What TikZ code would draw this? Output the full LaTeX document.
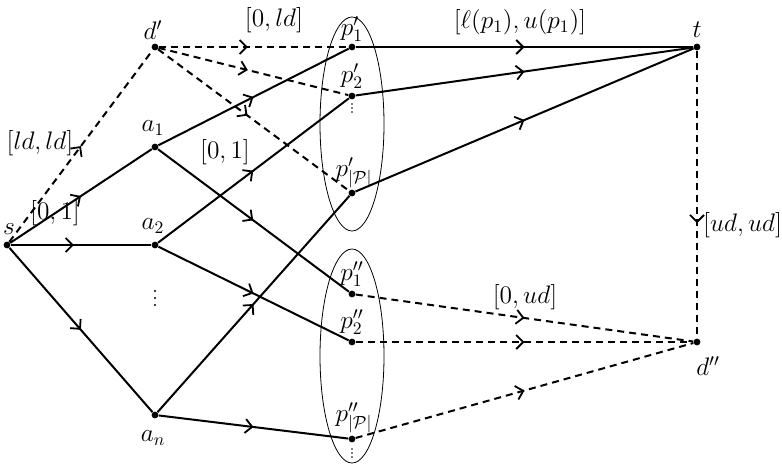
\documentclass[tikz,border=0pt]{standalone}
\usetikzlibrary{decorations.markings,arrows.meta}
\begin{document}
\begin{tikzpicture}[x=0.5pt,y=-0.5pt,
  pt/.style={circle,fill,inner sep=0pt,minimum size=3.4pt},
  dd/.style={circle,fill,inner sep=0pt,minimum size=1.2pt},
  mk/.style={postaction={decorate},decoration={markings,mark=at position #1 with {\arrow{Straight Barb[length=3.5pt,width=7pt,line width=0.9pt]}}}},
  e/.style={line width=1pt,mk=#1},
  e/.default=0.5,
  de/.style={line width=1pt,dash pattern=on 3.5pt off 2.5pt,mk=#1},
  de/.default=0.5,
  lab/.style={inner sep=1pt,font=\Large,scale=0.88}]
\useasboundingbox (0,0) rectangle (782,467);
\node[pt] (s) at (7,245) {};
\node[pt] (a1) at (155,147) {};
\node[pt] (a2) at (155,245) {};
\node[pt] (an) at (155,415) {};
\node[pt] (d1) at (155,47) {};
\node[pt] (p1) at (352,47) {};
\node[pt] (p2) at (352,96) {};
\node[pt] (pP) at (352,193) {};
\node[pt] (t) at (697,47) {};
\node[pt] (d2) at (697,342) {};
\node[pt] (q1) at (352,294) {};
\node[pt] (q2) at (352,342) {};
\node[pt] (qP) at (352,439) {};
\draw[thin] (352,124) ellipse (32 and 107);
\draw[thin] (352,356) ellipse (32 and 107);
\node[lab] at (9,229) {$s$};
\node[lab] at (153,128) {$a_1$};
\node[lab] at (153,226) {$a_2$};
\node[lab] at (153,438) {$a_n$};
\foreach \y in {291,298,305} \node[dd] at (155,\y) {};
\foreach \y in {104,108,112} \node[dd,minimum size=0.9pt] at (352,\y) {};
\foreach \y in {449,453,457} \node[dd,minimum size=0.9pt] at (352,\y) {};
\node[lab] at (153,30) {$d'$};
\node[lab] at (697,30) {$t$};
\node[lab] at (708,366) {$d''$};
\node[lab] at (352,29) {$p'_1$};
\node[lab] at (352,76) {$p'_2$};
\node[lab] at (354,173) {$p'_{|\mathcal{P}|}$};
\node[lab] at (352,274) {$p''_1$};
\node[lab] at (352,322) {$p''_2$};
\node[lab] at (354,418) {$p''_{|\mathcal{P}|}$};
\draw[de] (s) -- (d1);
\draw[e] (s) -- (a1);
\draw[e=0.45] (s) -- (a2);
\draw[e] (s) -- (an);
\draw[e] (a1) -- (p1);
\draw[e] (a1) -- (q1);
\draw[e] (a2) -- (p2);
\draw[e] (a2) -- (q2);
\draw[e] (an) -- (pP);
\draw[e] (an) -- (qP);
\draw[de=0.47] (d1) -- (p1);
\draw[de=0.47] (d1) -- (p2);
\draw[de=0.47] (d1) -- (pP);
\draw[e] (p1) -- (t);
\draw[e] (p2) -- (t);
\draw[e] (pP) -- (t);
\draw[de=0.6] (t) -- (d2);
\draw[de] (q1) -- (d2);
\draw[de] (q2) -- (d2);
\draw[de] (qP) -- (d2);
\node[lab] at (40,143) {$[ld,ld]$};
\node[lab] at (55,213) {$[0,1]$};
\node[lab] at (225,152) {$[0,1]$};
\node[lab] at (274,20) {$[0,ld]$};
\node[lab] at (520,22) {$[\ell(p_1),u(p_1)]$};
\node[lab,anchor=west] at (701,225) {$[ud,ud]$};
\node[lab] at (525,297) {$[0,ud]$};
\end{tikzpicture}
\end{document}
